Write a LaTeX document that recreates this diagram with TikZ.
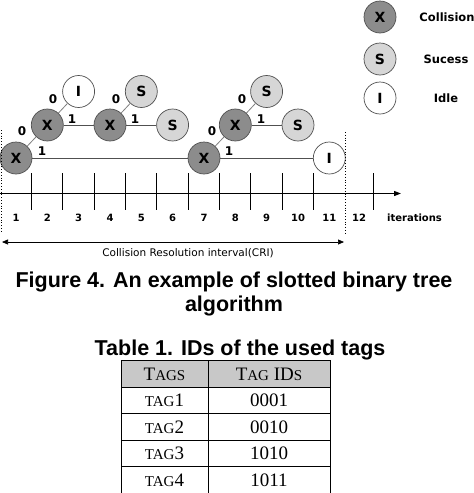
\documentclass[tikz,border=0pt]{standalone}
\usepackage{fontspec}
\usetikzlibrary{arrows.meta}
\newfontfamily\dejavu{DejaVu Sans}
\newfontfamily\arialfont{Liberation Sans}
\newfontfamily\tabfont{Liberation Serif}

\definecolor{collgray}{RGB}{140,140,140}
\definecolor{succgray}{RGB}{214,214,214}
\definecolor{edgegray}{RGB}{80,80,80}
\definecolor{headgray}{RGB}{200,200,200}

\newcommand{\fakesc}[2]{#1{\fontsize{15}{15}\selectfont #2}}

\tikzstyle{slot} = [circle, draw=edgegray, line width=0.7pt, 
    minimum size=32pt, inner sep=0pt, font=\dejavu\bfseries\fontsize{14}{14}\selectfont]
\tikzstyle{collision} = [slot, fill=collgray]
\tikzstyle{success} = [slot, fill=succgray]
\tikzstyle{idle} = [slot, fill=white]
\tikzstyle{bit} = [inner sep=0pt, font=\dejavu\bfseries\fontsize{12}{12}\selectfont]
\tikzstyle{legend} = [inner sep=0pt, font=\dejavu\bfseries\fontsize{11.5}{11.5}\selectfont]
\tikzstyle{branch} = [draw=edgegray, line width=0.8pt]
\tikzstyle{split} = [draw=gray, line width=0.8pt]
\tikzstyle{tick} = [draw, line width=1pt]
\tikzstyle{iter} = [inner sep=0pt, font=\dejavu\bfseries\fontsize{10}{10}\selectfont]
\tikzstyle{caption} = [inner sep=0pt, anchor=base, font=\arialfont\bfseries\fontsize{21.5}{24}\selectfont]
\tikzstyle{cell} = [rectangle, draw, line width=0.6pt, minimum height=26.5pt, 
    inner sep=0pt, font=\tabfont\fontsize{19}{19}\selectfont]
\tikzstyle{cella} = [cell, minimum width=87pt]
\tikzstyle{cellb} = [cell, minimum width=122pt]

\begin{document}
\begin{tikzpicture}[x=1pt,y=-1pt]
	\useasboundingbox (0,0) rectangle (474,493);
	% slots of the tree
	\node [collision] (c1) at (16,158) {X};
	\node [collision] (c2) at (47.3,125) {X};
	\node [idle] (i1) at (78.6,91.5) {I};
	\node [collision] (c3) at (110,125) {X};
	\node [success] (s1) at (141.3,91.5) {S};
	\node [success] (s2) at (172.6,125) {S};
	\node [collision] (c4) at (204,158) {X};
	\node [collision] (c5) at (235.3,125) {X};
	\node [success] (s3) at (266.6,91.5) {S};
	\node [success] (s4) at (298,125) {S};
	\node [idle] (i2) at (329.3,158) {I};
	%
	\draw [split] (c1) -- (c2);
	\draw [split] (c2) -- (i1);
	\draw [split] (c3) -- (s1);
	\draw [split] (c4) -- (c5);
	\draw [split] (c5) -- (s3);
	\draw [branch] (c1) -- (c4);
	\draw [branch] (c2) -- (c3);
	\draw [branch] (c3) -- (s2);
	\draw [branch] (c4) -- (i2);
	\draw [branch] (c5) -- (s4);
	%
	\node [bit] (za) at (22,131) {0};
	\node [bit] (zb) at (53,99) {0};
	\node [bit] (zc) at (116,99) {0};
	\node [bit] (zd) at (212,131) {0};
	\node [bit] (ze) at (242,99) {0};
	\node [bit] (oa) at (42,151) {1};
	\node [bit] (ob) at (72,119) {1};
	\node [bit] (oc) at (135,119) {1};
	\node [bit] (od) at (229,151) {1};
	\node [bit] (oe) at (261,119) {1};
	% legend
	\node [collision] (lc) at (380,17) {X};
	\node [success] (ls) at (380,59) {S};
	\node [idle] (li) at (380,98) {I};
	\node [legend] (tc) at (447,17) {Collision};
	\node [legend] (ts) at (446,59) {Sucess};
	\node [legend] (ti) at (446,98) {Idle};
	% iterations axis
	\coordinate (ax0) at (0,193.5);
	\coordinate (ax1) at (401,193.5);
	\draw [line width=1.2pt, -{Triangle[length=7pt,width=5pt]}] (ax0) -- (ax1);
	\draw [tick] (31.6,173) -- (31.6,210);
	\draw [tick] (62.9,173) -- (62.9,210);
	\draw [tick] (94.2,173) -- (94.2,210);
	\draw [tick] (125.5,173) -- (125.5,210);
	\draw [tick] (156.8,173) -- (156.8,210);
	\draw [tick] (188.1,173) -- (188.1,210);
	\draw [tick] (219.4,173) -- (219.4,210);
	\draw [tick] (250.7,173) -- (250.7,210);
	\draw [tick] (282,173) -- (282,210);
	\draw [tick] (313.3,173) -- (313.3,210);
	\draw [tick] (373,173) -- (373,210);
	\draw [dotted, line width=0.8pt] (1,130) -- (1,233);
	\draw [dotted, line width=0.8pt] (345,132) -- (345,233);
	%
	\node [iter] (n1) at (16,218) {1};
	\node [iter] (n2) at (47.3,218) {2};
	\node [iter] (n3) at (78.6,218) {3};
	\node [iter] (n4) at (110,218) {4};
	\node [iter] (n5) at (141.3,218) {5};
	\node [iter] (n6) at (172.6,218) {6};
	\node [iter] (n7) at (204,218) {7};
	\node [iter] (n8) at (235.3,218) {8};
	\node [iter] (n9) at (266.6,218) {9};
	\node [iter] (n10) at (298,218) {10};
	\node [iter] (n11) at (329.3,218) {11};
	\node [iter] (n12) at (359,218) {12};
	\node [iter] (nit) at (414.5,218) {iterations};
	% collision resolution interval
	\coordinate (cri0) at (2,242);
	\coordinate (cri1) at (344,242);
	\draw [line width=0.7pt, {Triangle[length=6pt,width=5pt]}-{Triangle[length=6pt,width=5pt]}] (cri0) -- (cri1);
	\node [inner sep=0pt, font=\dejavu\fontsize{10.5}{10.5}\selectfont] (cri) at (188,253) {Collision Resolution interval(CRI)};
	% captions
	\node [caption] (fig) at (234,287) {Figure 4. An example of slotted binary tree};
	\node [caption] (fig2) at (234,311) {algorithm};
	\node [caption] (tab) at (240,355) {Table 1. IDs of the used tags};
	% table
	\node [cella, fill=headgray] (ha) at (164.5,374) {\fakesc{T}{AGS}};
	\node [cellb, fill=headgray] (hb) at (269,374) {\fakesc{T}{AG} ID\fakesc{}{S}};
	\node [cella] (ra1) at (164.5,400.5) {\fakesc{}{TAG}1};
	\node [cellb] (rb1) at (269,400.5) {0001};
	\node [cella] (ra2) at (164.5,427) {\fakesc{}{TAG}2};
	\node [cellb] (rb2) at (269,427) {0010};
	\node [cella] (ra3) at (164.5,453.5) {\fakesc{}{TAG}3};
	\node [cellb] (rb3) at (269,453.5) {1010};
	\node [cella] (ra4) at (164.5,480) {\fakesc{}{TAG}4};
	\node [cellb] (rb4) at (269,480) {1011};
\end{tikzpicture}
\end{document}
